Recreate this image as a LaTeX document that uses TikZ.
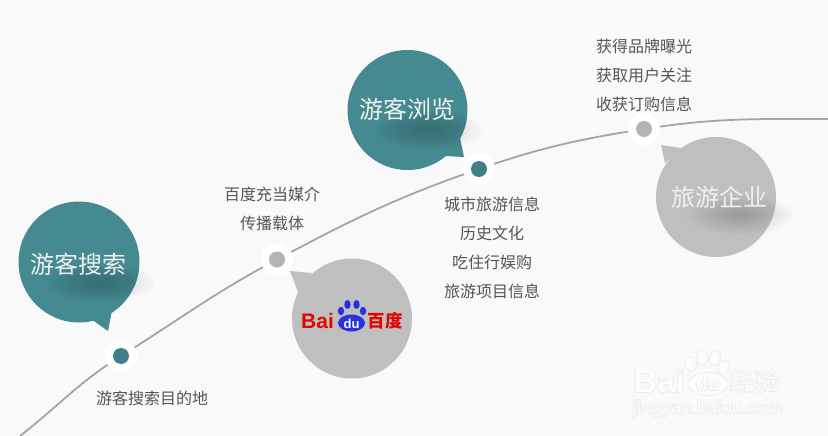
\documentclass[tikz,border=0pt]{standalone}
\usepackage{fontspec}
\setmainfont{Liberation Sans}
\newfontfamily\cjk{Noto Sans CJK SC}
\definecolor{pagebg}{HTML}{F9F9F9}
\definecolor{teal1}{HTML}{468A91}
\definecolor{teal2}{HTML}{3F8089}
\definecolor{gray1}{HTML}{BFBFBF}
\definecolor{gray2}{HTML}{B4B4B4}
\definecolor{linegray}{HTML}{A5A5A5}
\definecolor{labelgray}{HTML}{555555}
\definecolor{bdred}{HTML}{E10601}
\definecolor{bdblue}{HTML}{2932E1}
\definecolor{wmline}{HTML}{EDEDED}
\definecolor{wmfill}{HTML}{FCFCFC}
\newcommand{\smudgeat}[2]{%
  \foreach \k in {1,...,12}{%
    \fill[black,opacity=.015] (#1,#2) ellipse [x radius=\k*4.5,y radius=\k*1.6];
  }}
\newcommand{\wmtext}[3]{%
  \foreach \dx/\dy in {-.7/0,.7/0,0/-.7,0/.7,-.5/-.5,.5/.5,-.5/.5,.5/-.5}{%
    \node[wm,text=wmline,xshift=\dx pt,yshift=\dy pt] at (#1) {#3};}
  \node[wm,text=wmfill] (#2) at (#1) {#3};}
\tikzset{
  bubble/.style={circle,inner sep=0pt,minimum size=#1},
  bubbletext/.style={inner sep=0pt,text=white!94!black,font=\cjk\fontsize{24}{26}\selectfont},
  info/.style={inner sep=0pt,align=center,text=labelgray,font=\cjk\fontsize{16}{29}\selectfont},
  ring/.style={circle,fill=white,inner sep=0pt,minimum size=32pt},
  dotmark/.style={circle,inner sep=0pt,minimum size=16pt},
  curve/.style={draw=linegray,line width=1.8pt},
  wm/.style={inner sep=0pt},
}
\begin{document}
\begin{tikzpicture}[x=1pt,y=-1pt]
\useasboundingbox (0,0) rectangle (828,436);
\fill[pagebg] (0,0) rectangle (828,436);

% watermark
\foreach \p/\q/\rx/\ry/\r in {691/364/5.5/7/20,702/358/5.5/7.5/8,715/358/5.5/7.5/-8,723.5/367/5.5/7/-25}{%
  \filldraw[draw=wmline,fill=wmfill,line width=.8pt,rotate around={\r:(\p,\q)}] (\p,\q) ellipse [x radius=\rx,y radius=\ry];}
\filldraw[draw=wmline,fill=wmfill,line width=.8pt] (708,384) ellipse [x radius=20,y radius=11.5];
\wmtext{659,381}{wm1}{\fontsize{33}{33}\selectfont\bfseries Bai}
\wmtext{708,384}{wm2}{\fontsize{19}{19}\selectfont\bfseries du}
\wmtext{755,381}{wm3}{\cjk\fontsize{25}{25}\selectfont 经验}
\wmtext{708,409}{wm4}{\fontsize{18.6}{21}\selectfont jingyan.baidu.com}

% curve ends
\coordinate (start) at (20,436);
\coordinate (finish) at (828,119);
\node[ring] (r1) at (121,356) {};
\node[ring] (r2) at (277,259.5) {};
\node[ring] (r3) at (479,169) {};
\node[ring] (r4) at (644,129) {};
\draw[curve] (start) to[out=38,in=212] (r1.center);
\draw[curve] (r1.center) to[out=32,in=208] (r2.center);
\draw[curve] (r2.center) to[out=28,in=199] (r3.center);
\draw[curve] (r3.center) to[out=19,in=189] (r4.center);
\draw[curve] (r4.center) to[out=9,in=180] (finish);
\node[ring] at (r1) {};
\node[ring] at (r2) {};
\node[ring] at (r3) {};
\node[ring] at (r4) {};
\node[dotmark,fill=teal2] (d1) at (r1) {};
\node[dotmark,fill=gray2] (d2) at (r2) {};
\node[dotmark,fill=teal2] (d3) at (r3) {};
\node[dotmark,fill=gray2] (d4) at (r4) {};

% bubbles
\node[bubble=121pt,fill=teal1] (b1) at (79,262) {};
\fill[teal1] (91,319) -- (108,331) -- (112,310) -- cycle;
\smudgeat{100}{283}
\node[bubbletext] (t1) at (78.5,264) {游客搜索};

\node[bubble=120pt,fill=gray1] (b2) at (352,318.5) {};
\fill[gray1] (312,273) -- (290,271) -- (298,292) -- cycle;

\node[bubble=120pt,fill=teal1] (b3) at (407.5,110) {};
\fill[teal1] (445,156) -- (464,157) -- (460,138) -- cycle;
\smudgeat{428}{130}
\node[bubbletext] (t3) at (407,109) {游客浏览};

\node[bubble=120pt,fill=gray1] (b4) at (716,197) {};
\fill[gray1] (681,148) -- (661,145) -- (665,163) -- cycle;
\smudgeat{740}{215}
\node[bubbletext] (t4) at (719,197) {旅游企业};

% Baidu logo
\node[inner sep=0pt,text=bdred,font=\fontsize{21}{21}\selectfont\bfseries] (lg1) at (317.5,321) {Bai};
\fill[bdblue] (351.5,323) ellipse [x radius=13.5,y radius=8.5];
\fill[bdblue] (341,311) ellipse [x radius=3.2,y radius=4.2];
\fill[bdblue] (347.5,304.5) ellipse [x radius=3.2,y radius=4.5];
\fill[bdblue] (356.5,304.5) ellipse [x radius=3.2,y radius=4.5];
\fill[bdblue] (363,311) ellipse [x radius=3.2,y radius=4.2];
\node[inner sep=0pt,text=white,font=\fontsize{13}{13}\selectfont\bfseries] (lg2) at (351.5,324) {du};
\node[inner sep=0pt,text=bdred,font=\cjk\fontsize{17.5}{18}\selectfont\bfseries] (lg3) at (385,321) {百度};

% labels
\node[info] (l1) at (152,398.5) {游客搜索目的地};
\node[info] (l2) at (272,208.5) {百度充当媒介\\传播载体};
\node[info] (l3) at (492,247.5) {城市旅游信息\\历史文化\\吃住行娱购\\旅游项目信息};
\node[info] (l4) at (644,75) {获得品牌曝光\\获取用户关注\\收获订购信息};
\end{tikzpicture}
\end{document}
